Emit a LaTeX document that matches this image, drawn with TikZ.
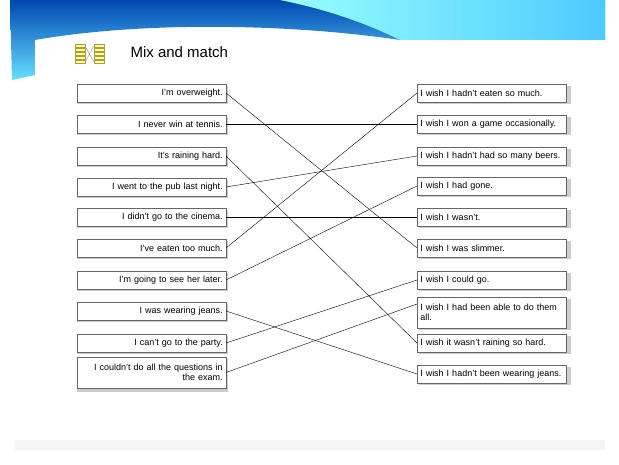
\documentclass[tikz,border=0pt]{standalone}
\usepackage{fontspec}
\setmainfont{Liberation Sans}
\begin{document}
\begin{tikzpicture}[x=1pt,y=-1pt,
  bx/.style={draw=black!60,fill=white,line width=0.5pt,minimum height=18pt,text width=143pt,inner sep=3pt,font=\fontsize{9}{10.5}\selectfont},
  lb/.style={bx,align=right,anchor=east},
  rb/.style={bx,align=left,anchor=west},
  ln/.style={line width=0.4pt}]
\useasboundingbox (0,0) rectangle (619,465);
\fill[white] (0,0) rectangle (619,465);
\fill[black!4] (15,440) rectangle (605,450);
% banner
\shade[top color=blue!60!cyan!70!black,bottom color=cyan!80!blue!60] (10,0) -- (605,0) -- (605,40) -- (400,40) .. controls (300,25) and (150,20) .. (35,40) -- (35,75) -- (12,80) -- cycle;
\shade[left color=cyan!40,right color=cyan!70!blue!70] (280,0) -- (605,0) -- (605,40) -- (400,40) .. controls (370,25) and (330,10) .. (280,0) -- cycle;
\fill[white] (35,40) rectangle (605,440);
% icon
\foreach \i in {0,...,4}{
  \fill[yellow!40,draw=yellow!60!black,line width=0.2pt] (75,{44+4*\i}) rectangle (85,{47+4*\i});
  \fill[yellow!40,draw=yellow!60!black,line width=0.2pt] (94,{44+4*\i}) rectangle (104,{47+4*\i});}
\draw[line width=0.3pt,gray] (85,46) -- (94,62) (85,62) -- (94,46);
\node[anchor=west,font=\fontsize{15}{17}\selectfont] (title) at (127,52) {Mix and match};
% left boxes
\foreach \n/\y/\t in {l1/93/I'm overweight., l2/124/I never win at tennis., l3/156/It's raining hard., l4/187/I went to the pub last night., l5/217/I didn't go to the cinema., l6/248/I've eaten too much., l7/280/I'm going to see her later., l8/311/I was wearing jeans., l9/343/I can't go to the party.}{
  \fill[black!20] (77,{\y-7}) rectangle (228,{\y+11});
  \node[lb] (\n) at (226,\y) {\t};}
\fill[black!20] (77,359) rectangle (228,392);
\node[lb,minimum height=31pt] (l10) at (226,372.5) {I couldn't do all the questions in\\ the exam.};
% right boxes
\foreach \n/\y/\t in {r1/93/I wish I hadn't eaten so much., r2/124/I wish I won a game occasionally., r3/156/I wish I hadn't had so many beers., r4/186/I wish I had gone., r5/217/I wish I wasn't., r6/248/I wish I was slimmer., r7/280/I wish I could go., r9/343/I wish it wasn't raining so hard., r10/374/I wish I hadn't been wearing jeans.}{
  \fill[black!20] (419,{\y-7}) rectangle (571,{\y+11});
  \node[rb] (\n) at (417,\y) {\t};}
\fill[black!20] (419,299) rectangle (571,330);
\node[rb,minimum height=31pt] (r8) at (417,312.5) {I wish I had been able to do them all.};
% connectors
\foreach \a/\b in {l1/r6,l2/r2,l3/r9,l4/r3,l5/r5,l6/r1,l7/r4,l8/r10,l9/r7}
  \draw[ln] (\a.east) -- (\b.west);
\draw[ln] (l10.east) -- (r8.north west |- 0,304);
\end{tikzpicture}
\end{document}
